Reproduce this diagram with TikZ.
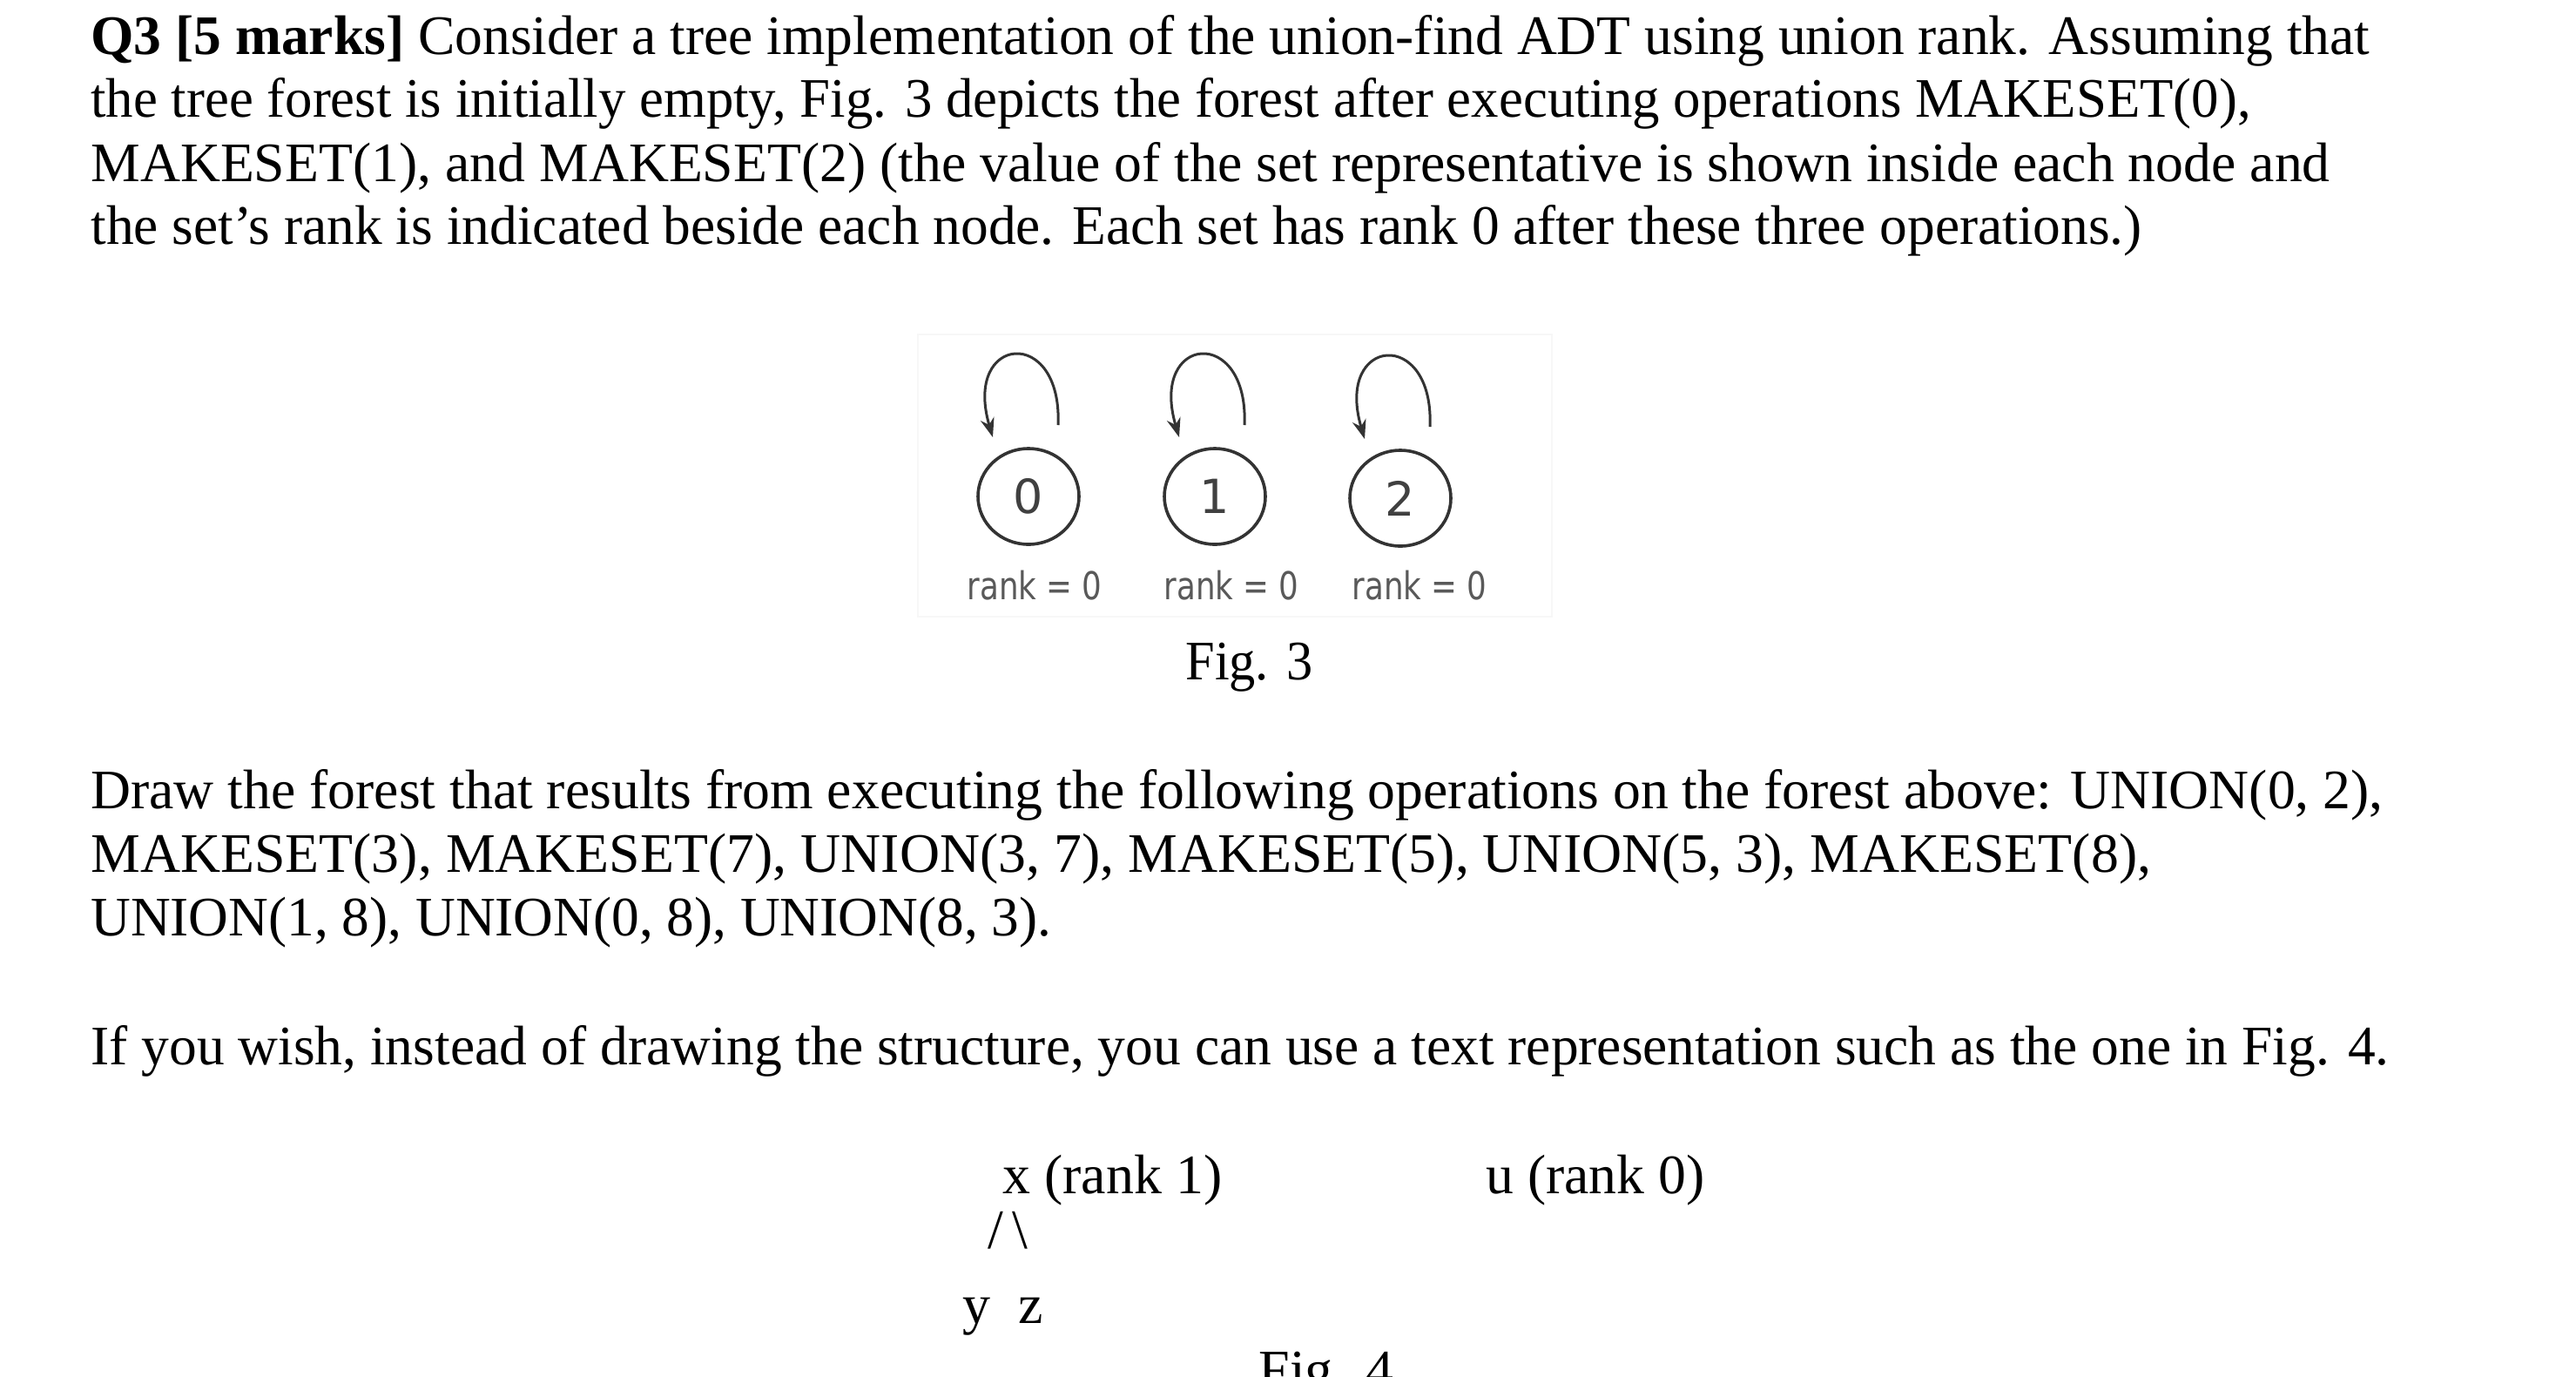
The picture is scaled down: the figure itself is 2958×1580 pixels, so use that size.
\documentclass[tikz,border=0pt]{standalone}
\usepackage{fontspec}
\usepackage{graphicx}
\setmainfont{Liberation Serif}
\newfontfamily\rankfont{DejaVu Sans}
\usetikzlibrary{arrows.meta,calc,shapes.geometric}
\newcommand{\fitw}[2]{\resizebox{#1\dimexpr 0.5pt\relax}{\height}{#2}}
\tikzset{
  txt/.style={anchor=base west,inner sep=0pt,font=\fontsize{32pt}{38pt}\selectfont},
  setnode/.style={draw=black!80,line width=1.8pt,ellipse,minimum width=58pt,minimum height=55pt,inner sep=0pt,font=\rankfont\fontsize{27pt}{29pt}\selectfont,text=black!75},
  ranklbl/.style={inner sep=0pt,font=\rankfont\fontsize{22pt}{24pt}\selectfont,text=black!65},
  loop/.style={draw=black!80,line width=1.5pt,-{Stealth[length=11pt,width=8pt]}}
}
\begin{document}
\begin{tikzpicture}[x=0.5pt,y=-0.5pt]
\useasboundingbox[fill=white] (0,0) rectangle (2958,1580);
\node[txt] (l1) at (104,62) {\fitw{2617}{\textbf{Q3 [5 marks]} Consider a tree implementation of the union-find ADT using union rank. Assuming that}};
\node[txt] (l2) at (104,134) {\fitw{2480}{the tree forest is initially empty, Fig. 3 depicts the forest after executing operations MAKESET(0),}};
\node[txt] (l3) at (104,208) {\fitw{2571}{MAKESET(1), and MAKESET(2) (the value of the set representative is shown inside each node and}};
\node[txt] (l4) at (104,280) {\fitw{2355}{the set's rank is indicated beside each node. Each set has rank 0 after these three operations.)}};
% Fig 3
\draw[black!3,line width=1pt] (1054,384) rectangle (1782,708);
\foreach \n/\x/\y/\r in {0/1181/570/1188,1/1395/570/1414,2/1608/572/1630}{
  \node[setnode] (s\n) at (\x,\y) {\n};
  \node[ranklbl] (r\n) at (\r,672) {\fitw{155}{rank = 0}};
  \coordinate (a\n) at ($(s\n)+(34,-82)$);
  \coordinate (b\n) at ($(s\n)+(-41,-68)$);
  \draw[loop] (a\n) .. controls +(5,-115) and +(-35,-118) .. (b\n);
}
\node[txt] (f3) at (1361,780) {\fitw{146}{Fig. 3}};
\node[txt] (p1) at (104,928) {\fitw{2632}{Draw the forest that results from executing the following operations on the forest above: UNION(0, 2),}};
\node[txt] (p2) at (104,1001) {\fitw{2366}{MAKESET(3), MAKESET(7), UNION(3, 7), MAKESET(5), UNION(5, 3), MAKESET(8),}};
\node[txt] (p3) at (104,1074) {\fitw{1103}{UNION(1, 8), UNION(0, 8), UNION(8, 3).}};
\node[txt] (q1) at (104,1222) {\fitw{2639}{If you wish, instead of drawing the structure, you can use a text representation such as the one in Fig. 4.}};
\node[txt] (x) at (1151,1370) {\fitw{252}{x (rank 1)}};
\node[txt] (u) at (1706,1370) {\fitw{251}{u (rank 0)}};
\node[txt] (sl) at (1134,1433) {/\,\textbackslash};
\node[txt] (yz) at (1105,1519) {y\ \ z};
\node[txt] (f4) at (1445,1594) {Fig. 4};
\end{tikzpicture}
\end{document}
